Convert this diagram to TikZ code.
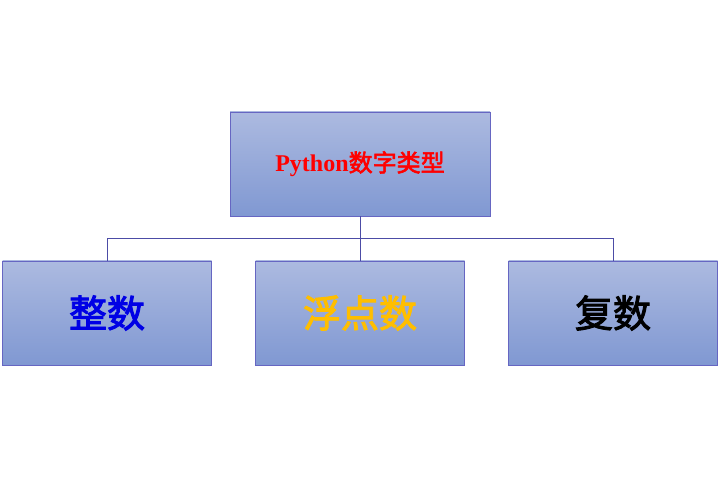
\documentclass[tikz,border=0pt]{standalone}
\usepackage{fontspec}
\setmainfont{Liberation Serif}
\newfontfamily\cjk[AutoFakeBold=2.5]{Noto Sans CJK SC}
\begin{document}
\begin{tikzpicture}[x=1pt,y=-1pt,
  box/.style={draw=black!40!blue!60!white, line width=0.8pt, top color=blue!50!cyan!20!white!80!blue!45, bottom color=blue!55!white!70!black!90, shading angle=0, minimum width=#1, minimum height=104pt, inner sep=0pt},
  conn/.style={draw=blue!50!black!70!white, line width=0.8pt}]
\useasboundingbox (0,0) rectangle (720,478);
\tikzset{box/.default=209pt}
\node[box=260pt, top color={rgb,255:red,172;green,186;blue,224}, bottom color={rgb,255:red,128;green,152;blue,210}] (top) at (360,164) {\fontsize{24}{28}\selectfont\bfseries\color{red}Python\cjk 数字类型};
\node[box, top color={rgb,255:red,172;green,186;blue,224}, bottom color={rgb,255:red,128;green,152;blue,210}] (a) at (107,313) {\fontsize{38}{44}\selectfont\cjk\bfseries\color{blue!90!black}整数};
\node[box, top color={rgb,255:red,172;green,186;blue,224}, bottom color={rgb,255:red,128;green,152;blue,210}] (b) at (360,313) {\fontsize{38}{44}\selectfont\cjk\bfseries\color[RGB]{255,190,0}浮点数};
\node[box, top color={rgb,255:red,172;green,186;blue,224}, bottom color={rgb,255:red,128;green,152;blue,210}] (c) at (613,313) {\fontsize{38}{44}\selectfont\cjk\bfseries\color{black}复数};
\coordinate (m) at (360,238);
\draw[conn] (top.south) -- (m);
\draw[conn] (m) -| (a.north);
\draw[conn] (m) -- (b.north);
\draw[conn] (m) -| (c.north);
\end{tikzpicture}
\end{document}
